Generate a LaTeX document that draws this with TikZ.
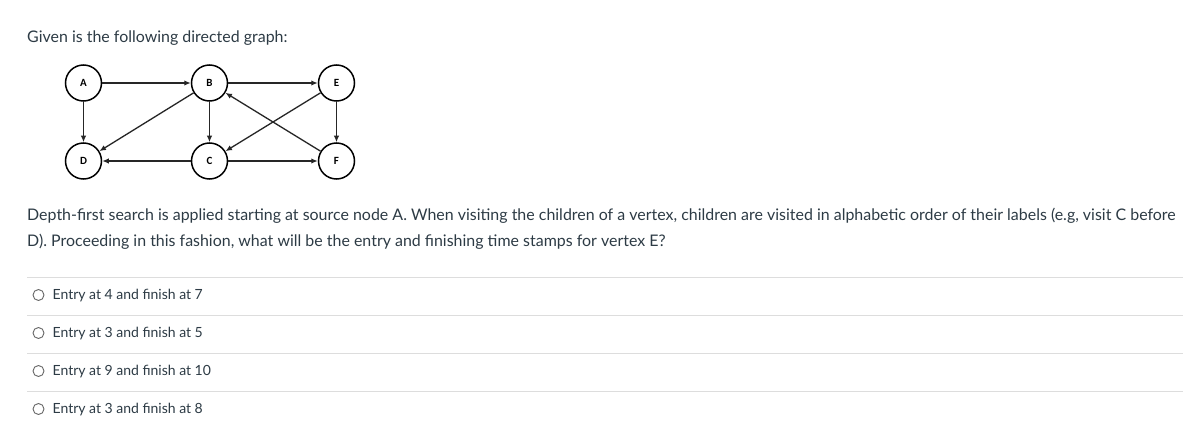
\documentclass[tikz,border=0pt]{standalone}
\usepackage{fontspec}
\setmainfont{Lato}
\newfontfamily\lblfont{Carlito}
\usetikzlibrary{arrows.meta}
\definecolor{txt}{HTML}{2D3B45}
\definecolor{sep}{HTML}{DDDDDD}
\definecolor{radio}{HTML}{666666}
\tikzset{
  vtx/.style={circle,draw=black,line width=1.5pt,minimum size=36pt,inner sep=0pt,font=\lblfont\bfseries\fontsize{11}{12}\selectfont},
  edge/.style={draw=black!85,line width=1.3pt,-{Latex[length=6.5pt,width=5.5pt]}},
  para/.style={anchor=base west,inner sep=0pt,text=txt,font=\fontsize{15.95}{19}\selectfont},
  opt/.style={anchor=base west,inner sep=0pt,text=txt,font=\fontsize{14}{17}\selectfont},
  sepline/.style={draw=sep,line width=1pt},
  radiobtn/.style={circle,draw=radio,line width=0.9pt,minimum size=11pt,inner sep=0pt}
}
\begin{document}
\begin{tikzpicture}[x=1pt,y=-1pt]
\useasboundingbox[fill=white] (0,0) rectangle (1203,441);
\node[para] (q) at (27,43) {Given is the following directed graph:};
% graph
\node[vtx] (A) at (83.5,83) {A};
\node[vtx] (B) at (209.5,83) {B};
\node[vtx] (E) at (336.5,83) {E};
\node[vtx] (D) at (83.5,161) {D};
\node[vtx] (C) at (209.5,161) {C};
\node[vtx] (F) at (336.5,161) {F};
\draw[edge] (A) -- (B);
\draw[edge] (A) -- (D);
\draw[edge] (B) -- (E);
\draw[edge] (B) -- (D);
\draw[edge] (B) -- (C);
\draw[edge] (E) -- (F);
\draw[edge] (E) -- (C);
\draw[edge] (F) -- (B);
\draw[edge] (C) -- (D);
\draw[edge] (C) -- (F);
% question
\node[para] (p1) at (27,221) {Depth-first search is applied starting at source node A. When visiting the children of a vertex, children are visited in alphabetic order of their labels (e.g, visit C before};
\node[para] (p2) at (27,246) {D). Proceeding in this fashion, what will be the entry and finishing time stamps for vertex E?};
% separators
\draw[sepline] (27,277.5) coordinate (s1a) -- (1183,277.5) coordinate (s1b);
\draw[sepline] (27,315.5) coordinate (s2a) -- (1183,315.5) coordinate (s2b);
\draw[sepline] (27,353.5) coordinate (s3a) -- (1183,353.5) coordinate (s3b);
\draw[sepline] (27,391.5) coordinate (s4a) -- (1183,391.5) coordinate (s4b);
% options
\node[radiobtn] (r1) at (38.5,295) {};
\node[opt] (o1) at (52.5,299.5) {Entry at 4 and finish at 7};
\node[radiobtn] (r2) at (38.5,333) {};
\node[opt] (o2) at (52.5,337.5) {Entry at 3 and finish at 5};
\node[radiobtn] (r3) at (38.5,371) {};
\node[opt] (o3) at (52.5,375.5) {Entry at 9 and finish at 10};
\node[radiobtn] (r4) at (38.5,409) {};
\node[opt] (o4) at (52.5,413.5) {Entry at 3 and finish at 8};
\end{tikzpicture}
\end{document}
